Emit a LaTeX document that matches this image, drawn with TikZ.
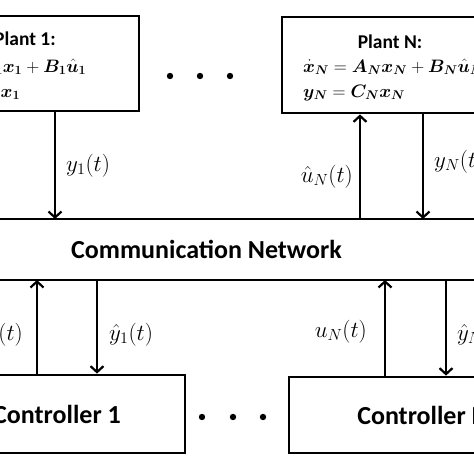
\RequirePackage{fix-cm}
\documentclass[tikz,border=0pt]{standalone}
\usepackage[no-math]{fontspec}
\setmainfont{Carlito}
\usepackage{amsmath,bm}
\usetikzlibrary{arrows.meta}

\tikzset{
  box/.style={draw, line width=2.8pt, inner sep=0pt},
  sig/.style={line width=2.2pt, -{Straight Barb[length=6pt,width=13pt]}},
  bus/.style={line width=2.6pt},
  ttl/.style={font=\bfseries\fontsize{19.5}{23}\selectfont, inner sep=0pt, anchor=base},
  eqn/.style={font=\fontsize{18}{22}\selectfont, inner sep=0pt, anchor=base west},
  lbl/.style={font=\fontsize{23}{27}\selectfont, inner sep=0pt},
  big/.style={font=\bfseries\fontsize{26}{30}\selectfont}
}

\begin{document}
\begin{tikzpicture}[x=1pt,y=-1pt]
\useasboundingbox (0,0) rectangle (474,474);
\clip (0,0) rectangle (474,474);
% blocks
\node[box, minimum width=228pt, minimum height=95pt] (plant1) at (25,63.5) {};
\node[box, minimum width=216pt, minimum height=96pt] (plantN) at (390,65) {};
\node[box, big, minimum width=256pt, minimum height=78pt] (ctrl1) at (57,414) {Controller 1};
\node[box, big, minimum width=268pt, minimum height=76pt] (ctrlN) at (423,415) {Controller N};
\node[big, inner sep=0pt, outer sep=0pt, minimum width=613pt, minimum height=61pt] (net) at (206.5,249.5) {Communication Network};
\draw[bus] (net.north west) -- (net.north east);
\draw[bus] (net.south west) -- (net.south east);
% plant texts
\node[ttl] at (25,45.5) {Plant 1:};
\node[eqn] at (-63,72) {$\dot{\bm{x}}_{\bm{1}} = \bm{A}_{\bm{1}}\bm{x}_{\bm{1}} + \bm{B}_{\bm{1}}\hat{\bm{u}}_{\bm{1}}$};
\node[eqn] at (-63,97) {$\bm{y}_{\bm{1}} = \bm{C}_{\bm{1}}\bm{x}_{\bm{1}}$};
\node[ttl] at (390,48) {Plant N:};
\node[eqn] at (303,72) {$\dot{\bm{x}}_{\bm{N}} = \bm{A}_{\bm{N}}\bm{x}_{\bm{N}} + \bm{B}_{\bm{N}}\hat{\bm{u}}_{\bm{N}}$};
\node[eqn] at (303,97) {$\bm{y}_{\bm{N}} = \bm{C}_{\bm{N}}\bm{x}_{\bm{N}}$};
% dots
\foreach \x in {170,200,230} \fill (\x,76) circle (3.2pt);
\foreach \x in {202,233,263} \fill (\x,417) circle (3.2pt);
% signal columns
\coordinate (c1) at (55,0);
\coordinate (c2) at (360,0);
\coordinate (c3) at (423,0);
\coordinate (c4) at (37,0);
\coordinate (c5) at (97,0);
\coordinate (c6) at (385,0);
\coordinate (c7) at (446,0);
% signals
\draw[sig] (plant1.south -| c1) -- (net.north -| c1);
\draw[sig] (net.north -| c2) -- (plantN.south -| c2);
\draw[sig] (plantN.south -| c3) -- (net.north -| c3);
\draw[sig] (ctrl1.north -| c4) -- (net.south -| c4);
\draw[sig] (net.south -| c5) -- (ctrl1.north -| c5);
\draw[sig] (ctrlN.north -| c6) -- (net.south -| c6);
\draw[sig] (net.south -| c7) -- (ctrlN.north -| c7);
% labels
\node[lbl, anchor=base west] at (66,171) {$y_1(t)$};
\node[lbl, anchor=base east] at (353,182) {$\hat{u}_N(t)$};
\node[lbl, anchor=base west] at (434,167) {$y_N(t)$};
\node[lbl, anchor=base east] at (23,340) {$u_1(t)$};
\node[lbl, anchor=base west] at (109,340) {$\hat{y}_1(t)$};
\node[lbl, anchor=base east] at (367,337) {$u_N(t)$};
\node[lbl, anchor=base west] at (457,340) {$\hat{y}_N(t)$};
\end{tikzpicture}
\end{document}
